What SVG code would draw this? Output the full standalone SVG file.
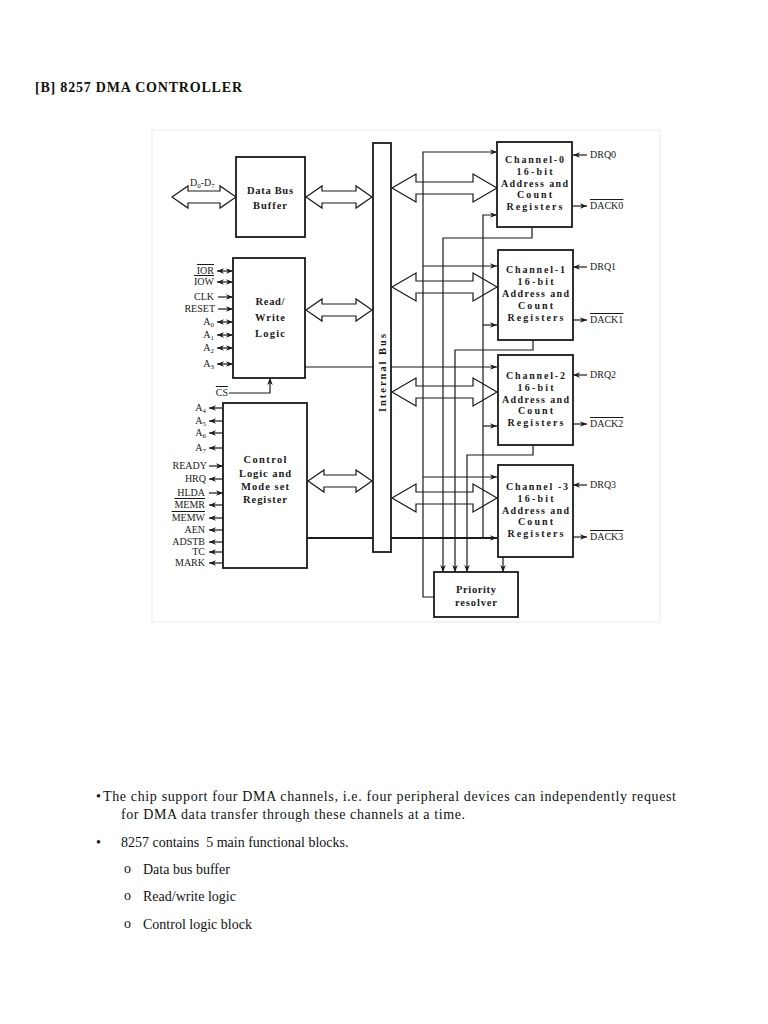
<svg xmlns="http://www.w3.org/2000/svg" width="768" height="1024" viewBox="0 0 768 1024">
<style>
.box{fill:#fff;stroke:#1a1a1a;stroke-width:1.8}
.ln{fill:none;stroke:#1a1a1a;stroke-width:1.2}
.thick{fill:none;stroke:#1a1a1a;stroke-width:1.8}
.da{fill:none;stroke:#1a1a1a;stroke-width:1.2;stroke-linejoin:miter}
.bl{font-family:"Liberation Serif","Times New Roman",serif;font-weight:bold;font-size:10.5px;fill:#1a1a1a;text-anchor:middle}
.ch{font-family:"Liberation Serif","Times New Roman",serif;font-weight:bold;font-size:10px;fill:#1a1a1a;text-anchor:middle}
.sg{font-family:"Liberation Serif","Times New Roman",serif;font-size:10px;fill:#1a1a1a;text-anchor:end}
.sr{font-family:"Liberation Serif","Times New Roman",serif;font-size:10px;fill:#1a1a1a}
.ov{text-decoration:overline}
.sub{font-size:7px}
.body{font-family:"Liberation Serif","Times New Roman",serif;font-size:14px;fill:#111;white-space:pre}
</style>
<defs>
<marker id="ah" viewBox="0 0 10 10" refX="10" refY="5" markerWidth="7" markerHeight="7" markerUnits="userSpaceOnUse" orient="auto-start-reverse">
<path d="M0,1 L10,5 L0,9 L3,5 Z" fill="#1a1a1a"/>
</marker>
</defs>
<rect width="768" height="1024" fill="#fff"/>
<text x="35" y="92" font-family="'Liberation Serif','Times New Roman',serif" font-weight="bold" font-size="14" textLength="207" fill="#111">[B] 8257 DMA CONTROLLER</text>
<rect x="152" y="130" width="508" height="492" fill="none" stroke="#ececec" stroke-width="1"/>

<g id="connectors">
<path class="ln" d="M305,367 H497" marker-end="url(#ah)"/>
<path class="thick" d="M307,538 H497" marker-end="url(#ah)"/>
<path class="ln" d="M434,597 H423 V152 H497" marker-end="url(#ah)"/>
<path class="ln" d="M423,266 H497" marker-end="url(#ah)"/>
<path class="ln" d="M423,477 H497" marker-end="url(#ah)"/>
<path class="ln" d="M483,538 V215 H497" marker-end="url(#ah)"/>
<path class="ln" d="M483,325 H497" marker-end="url(#ah)"/>
<path class="ln" d="M483,426 H497" marker-end="url(#ah)"/>
<path class="ln" d="M532,227 V238 H443 V572" marker-end="url(#ah)"/>
<path class="ln" d="M533,340 V350 H455 V572" marker-end="url(#ah)"/>
<path class="ln" d="M533,445 V455 H467 V572" marker-end="url(#ah)"/>
<path class="ln" d="M503,557 V572" marker-end="url(#ah)"/>
<path class="ln" d="M229,393 H270 V378" marker-end="url(#ah)"/>
<path class="da" fill="#fff" d="M172,197 L188,186 L188,191 L220,191 L220,186 L236,197 L220,208 L220,203 L188,203 L188,208 Z"/>
<path class="da" d="M306,197 L322,186 L322,191 L356,191 L356,186 L372,197 L356,208 L356,203 L322,203 L322,208 Z"/>
<path class="da" d="M306,310 L322,299 L322,304 L356,304 L356,299 L372,310 L356,321 L356,316 L322,316 L322,321 Z"/>
<path class="da" d="M308,481 L324,470 L324,475 L356,475 L356,470 L372,481 L356,492 L356,487 L324,487 L324,492 Z"/>
<path class="da" d="M392,188 L416,174 L416,182 L473,182 L473,174 L497,188 L473,202 L473,194 L416,194 L416,202 Z"/>
<path class="da" d="M392,287 L416,273 L416,281 L473,281 L473,273 L497,287 L473,301 L473,293 L416,293 L416,301 Z"/>
<path class="da" d="M392,392 L416,378 L416,386 L473,386 L473,378 L497,392 L473,406 L473,398 L416,398 L416,406 Z"/>
<path class="da" d="M392,498 L416,484 L416,492 L473,492 L473,484 L497,498 L473,512 L473,504 L416,504 L416,512 Z"/>
<path class="ln" d="M217,271 H233" marker-start="url(#ah)" marker-end="url(#ah)"/>
<path class="ln" d="M217,282 H233" marker-start="url(#ah)" marker-end="url(#ah)"/>
<path class="ln" d="M218,297 H233" marker-end="url(#ah)"/>
<path class="ln" d="M218,309 H233" marker-end="url(#ah)"/>
<path class="ln" d="M217,322 H233" marker-start="url(#ah)" marker-end="url(#ah)"/>
<path class="ln" d="M217,335 H233" marker-start="url(#ah)" marker-end="url(#ah)"/>
<path class="ln" d="M217,348 H233" marker-start="url(#ah)" marker-end="url(#ah)"/>
<path class="ln" d="M217,364 H233" marker-start="url(#ah)" marker-end="url(#ah)"/>
<path class="ln" d="M223,408 H209" marker-end="url(#ah)"/>
<path class="ln" d="M223,421 H209" marker-end="url(#ah)"/>
<path class="ln" d="M223,433 H209" marker-end="url(#ah)"/>
<path class="ln" d="M223,448 H209" marker-end="url(#ah)"/>
<path class="ln" d="M209,466 H223" marker-end="url(#ah)"/>
<path class="ln" d="M223,479 H209" marker-end="url(#ah)"/>
<path class="ln" d="M209,493 H223" marker-end="url(#ah)"/>
<path class="ln" d="M223,505 H209" marker-end="url(#ah)"/>
<path class="ln" d="M223,518 H209" marker-end="url(#ah)"/>
<path class="ln" d="M223,530 H209" marker-end="url(#ah)"/>
<path class="ln" d="M223,542 H209" marker-end="url(#ah)"/>
<path class="ln" d="M223,552 H209" marker-end="url(#ah)"/>
<path class="ln" d="M223,563 H209" marker-end="url(#ah)"/>
<path class="ln" d="M587,155 H573" marker-end="url(#ah)"/>
<path class="ln" d="M573,206 H587" marker-end="url(#ah)"/>
<path class="ln" d="M587,267 H573" marker-end="url(#ah)"/>
<path class="ln" d="M573,320 H587" marker-end="url(#ah)"/>
<path class="ln" d="M587,375 H573" marker-end="url(#ah)"/>
<path class="ln" d="M573,424 H587" marker-end="url(#ah)"/>
<path class="ln" d="M587,485 H573" marker-end="url(#ah)"/>
<path class="ln" d="M573,537 H587" marker-end="url(#ah)"/>
</g>

<g id="internal-bus">
<rect class="box" x="373" y="143" width="18" height="409"/>
<text class="bl" font-size="11" textLength="78" transform="translate(386,373) rotate(-90)" x="0" y="0">Internal Bus</text>
</g>

<g id="data-bus-buffer">
<rect class="box" x="236" y="157" width="69" height="80"/>
<text class="bl" x="270" y="194" textLength="46">Data Bus</text>
<text class="bl" x="270" y="209" textLength="34">Buffer</text>
</g>
<text class="sr" x="190" y="186">D<tspan class="sub" dy="2">0</tspan><tspan dy="-2">-D</tspan><tspan class="sub" dy="2">7</tspan></text>

<g id="read-write-logic">
<rect class="box" x="233" y="258" width="72" height="120"/>
<text class="bl" x="270" y="305" textLength="29">Read/</text>
<text class="bl" x="270" y="321" textLength="30">Write</text>
<text class="bl" x="270" y="337" textLength="30">Logic</text>
</g>
<g id="read-write-signals">
<text class="sg ov" x="214" y="274">IOR</text>
<text class="sg ov" x="214" y="285">IOW</text>
<text class="sg" x="214" y="300">CLK</text>
<text class="sg" x="215" y="312">RESET</text>
<text class="sg" x="214" y="325">A<tspan class="sub" dy="2">0</tspan></text>
<text class="sg" x="214" y="338">A<tspan class="sub" dy="2">1</tspan></text>
<text class="sg" x="214" y="351">A<tspan class="sub" dy="2">2</tspan></text>
<text class="sg" x="214" y="367">A<tspan class="sub" dy="2">3</tspan></text>
<text class="sg ov" x="228" y="396">CS</text>
</g>

<g id="control-logic">
<rect class="box" x="223" y="403" width="84" height="165"/>
<text class="bl" x="265" y="463" textLength="43">Control</text>
<text class="bl" x="265" y="477" textLength="52">Logic and</text>
<text class="bl" x="265" y="490" textLength="48">Mode set</text>
<text class="bl" x="265" y="503" textLength="44">Register</text>
</g>
<g id="control-signals">
<text class="sg" x="206" y="411">A<tspan class="sub" dy="2">4</tspan></text>
<text class="sg" x="206" y="424">A<tspan class="sub" dy="2">5</tspan></text>
<text class="sg" x="206" y="436">A<tspan class="sub" dy="2">6</tspan></text>
<text class="sg" x="206" y="451">A<tspan class="sub" dy="2">7</tspan></text>
<text class="sg" x="207" y="469">READY</text>
<text class="sg" x="206" y="482">HRQ</text>
<text class="sg" x="205" y="496">HLDA</text>
<text class="sg ov" x="205" y="508">MEMR</text>
<text class="sg ov" x="205" y="521">MEMW</text>
<text class="sg" x="205" y="533">AEN</text>
<text class="sg" x="205" y="545">ADSTB</text>
<text class="sg" x="205" y="555">TC</text>
<text class="sg" x="205" y="566">MARK</text>
</g>

<g id="channel-0">
<rect class="box" x="497" y="142" width="75" height="85"/>
<text class="ch" x="534.5" y="163" textLength="59">Channel-0</text>
<text class="ch" x="534.5" y="175" textLength="36">16-bit</text>
<text class="ch" x="534.5" y="187" textLength="67">Address and</text>
<text class="ch" x="534.5" y="198" textLength="35">Count</text>
<text class="ch" x="534.5" y="210" textLength="56">Registers</text>
<text class="sr" x="590" y="158">DRQ0</text>
<text class="sr ov" x="590" y="209">DACK0</text>
</g>
<g id="channel-1">
<rect class="box" x="498" y="250" width="75" height="90"/>
<text class="ch" x="535.5" y="273" textLength="59">Channel-1</text>
<text class="ch" x="535.5" y="285" textLength="36">16-bit</text>
<text class="ch" x="535.5" y="297" textLength="67">Address and</text>
<text class="ch" x="535.5" y="309" textLength="35">Count</text>
<text class="ch" x="535.5" y="321" textLength="56">Registers</text>
<text class="sr" x="590" y="270">DRQ1</text>
<text class="sr ov" x="590" y="323">DACK1</text>
</g>
<g id="channel-2">
<rect class="box" x="498" y="355" width="75" height="90"/>
<text class="ch" x="535.5" y="379" textLength="59">Channel-2</text>
<text class="ch" x="535.5" y="391" textLength="36">16-bit</text>
<text class="ch" x="535.5" y="403" textLength="67">Address and</text>
<text class="ch" x="535.5" y="414" textLength="35">Count</text>
<text class="ch" x="535.5" y="426" textLength="56">Registers</text>
<text class="sr" x="590" y="378">DRQ2</text>
<text class="sr ov" x="590" y="427">DACK2</text>
</g>
<g id="channel-3">
<rect class="box" x="498" y="465" width="75" height="92"/>
<text class="ch" x="537" y="490" textLength="62">Channel -3</text>
<text class="ch" x="535.5" y="502" textLength="36">16-bit</text>
<text class="ch" x="535.5" y="514" textLength="67">Address and</text>
<text class="ch" x="535.5" y="525" textLength="35">Count</text>
<text class="ch" x="535.5" y="537" textLength="56">Registers</text>
<text class="sr" x="590" y="488">DRQ3</text>
<text class="sr ov" x="590" y="540">DACK3</text>
</g>
<g id="priority-resolver">
<rect class="box" x="434" y="572" width="84" height="45"/>
<text class="bl" x="476" y="593" textLength="40">Priority</text>
<text class="bl" x="476" y="606" textLength="42">resolver</text>
</g>

<g id="notes">
<text class="body" x="96" y="801" font-size="9">•</text>
<text class="body" x="103" y="801" textLength="573">The chip support four DMA channels, i.e. four peripheral devices can independently request</text>
<text class="body" x="121" y="819" textLength="344">for DMA data transfer through these channels at a time.</text>
<text class="body" x="96" y="847" font-size="9">•</text>
<text class="body" x="121" y="847">8257 contains  5 main functional blocks.</text>
<text class="body" x="124" y="873" font-size="10">o</text>
<text class="body" x="143" y="874">Data bus buffer</text>
<text class="body" x="124" y="900" font-size="10">o</text>
<text class="body" x="143" y="901">Read/write logic</text>
<text class="body" x="124" y="928" font-size="10">o</text>
<text class="body" x="143" y="929">Control logic block</text>
</g>
</svg>
